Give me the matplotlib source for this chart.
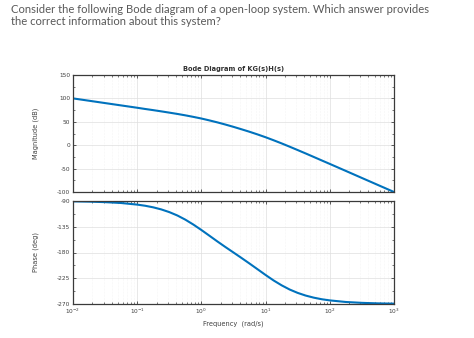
import numpy as np
import matplotlib
matplotlib.use("Agg")
from matplotlib import pyplot as plt
from matplotlib.ticker import LogLocator, NullFormatter, AutoMinorLocator

plt.rcParams["axes.unicode_minus"] = False

# values
freq = [0.01, 0.0178, 0.0316, 0.0562, 0.1, 0.133, 0.178, 0.237, 0.316, 0.422,
        0.562, 0.75, 1, 1.33, 1.78, 2.37, 3.16, 4.22, 5.62, 7.5, 10, 13.3,
        17.8, 23.7, 31.6, 42.2, 56.2, 75, 100, 178, 316, 562, 1000]
mag_db = [100.0, 95.0, 90.0, 85.0, 80.0, 77.4, 74.9, 72.3, 69.6, 66.8,
          63.8, 60.5, 57.0, 53.0, 48.7, 44.1, 39.2, 34.0, 28.7, 23.0, 17.0, 10.6,
          3.8, -3.2, -10.4, -17.7, -25.1, -32.6, -40.0, -55.0, -70.0, -85.0, -100.0]
phase_deg = [-90.6, -91.1, -92.0, -93.5, -96.3, -98.3, -101.1, -104.7, -109.4, -115.3,
             -122.6, -131.2, -140.7, -150.6, -160.8, -170.5, -180.0, -189.6, -199.3,
             -209.3, -219.3, -228.8, -237.4, -244.7, -250.6, -255.3, -258.9, -261.7,
             -263.7, -266.5, -268.0, -268.9, -269.4]

mag_ticks = [-100, -50, 0, 50, 100, 150]
phase_ticks = [-270, -225, -180, -135, -90]

W, H = 474, 338
fig = plt.figure(figsize=(W / 100, H / 100), dpi=100)
fig.patch.set_facecolor("white")

fig.text(11 / W, 1 - 4 / H,
         "Consider the following Bode diagram of a open-loop system. Which answer provides\n"
         "the correct information about this system?",
         ha="left", va="top", fontsize=8.1, family="Lato", color="#595959",
         linespacing=1.15)

ax1 = fig.add_axes([73 / W, 1 - 192 / H, 321 / W, 117 / H])
ax2 = fig.add_axes([73 / W, 1 - 304 / H, 321 / W, 103 / H])

blue = "#0072BD"
ax1.semilogx(freq, mag_db, color=blue, lw=1.5)
ax2.semilogx(freq, phase_deg, color=blue, lw=1.5)

for ax in (ax1, ax2):
    ax.set_xlim(0.01, 1000)
    ax.xaxis.set_major_locator(LogLocator(base=10, numticks=10))
    ax.xaxis.set_minor_locator(LogLocator(base=10, subs=np.arange(2, 10), numticks=20))
    ax.xaxis.set_minor_formatter(NullFormatter())
    ax.yaxis.set_minor_locator(AutoMinorLocator(2))
    ax.grid(True, which="major", color="#dedede", lw=0.5)
    ax.grid(True, which="minor", axis="x", color="#ececec", lw=0.4, ls=":")
    ax.tick_params(which="both", direction="in", top=True, right=True,
                   labelsize=4.2, colors="#404040", pad=2)
    ax.tick_params(which="major", length=2.5, width=0.6)
    ax.tick_params(which="minor", length=1.5, width=0.5)
    for s in ax.spines.values():
        s.set_color("#3a3a3a")
        s.set_linewidth(0.9)
    ax.set_axisbelow(True)

ax1.set_ylim(-100, 150)
ax1.set_yticks(mag_ticks)
ax1.tick_params(labelbottom=False)
ax1.set_ylabel("Magnitude (dB)", fontsize=4.8, color="#404040", labelpad=13)
ax1.set_title("Bode Diagram of KG(s)H(s)", fontsize=4.8, fontweight="bold",
              color="#303030", pad=3)

ax2.set_ylim(-270, -90)
ax2.set_yticks(phase_ticks)
ax2.set_ylabel("Phase (deg)", fontsize=4.8, color="#404040", labelpad=13)
ax2.set_xlabel("Frequency  (rad/s)", fontsize=4.8, color="#404040", labelpad=3)

fig.savefig("out.png", dpi=100)
